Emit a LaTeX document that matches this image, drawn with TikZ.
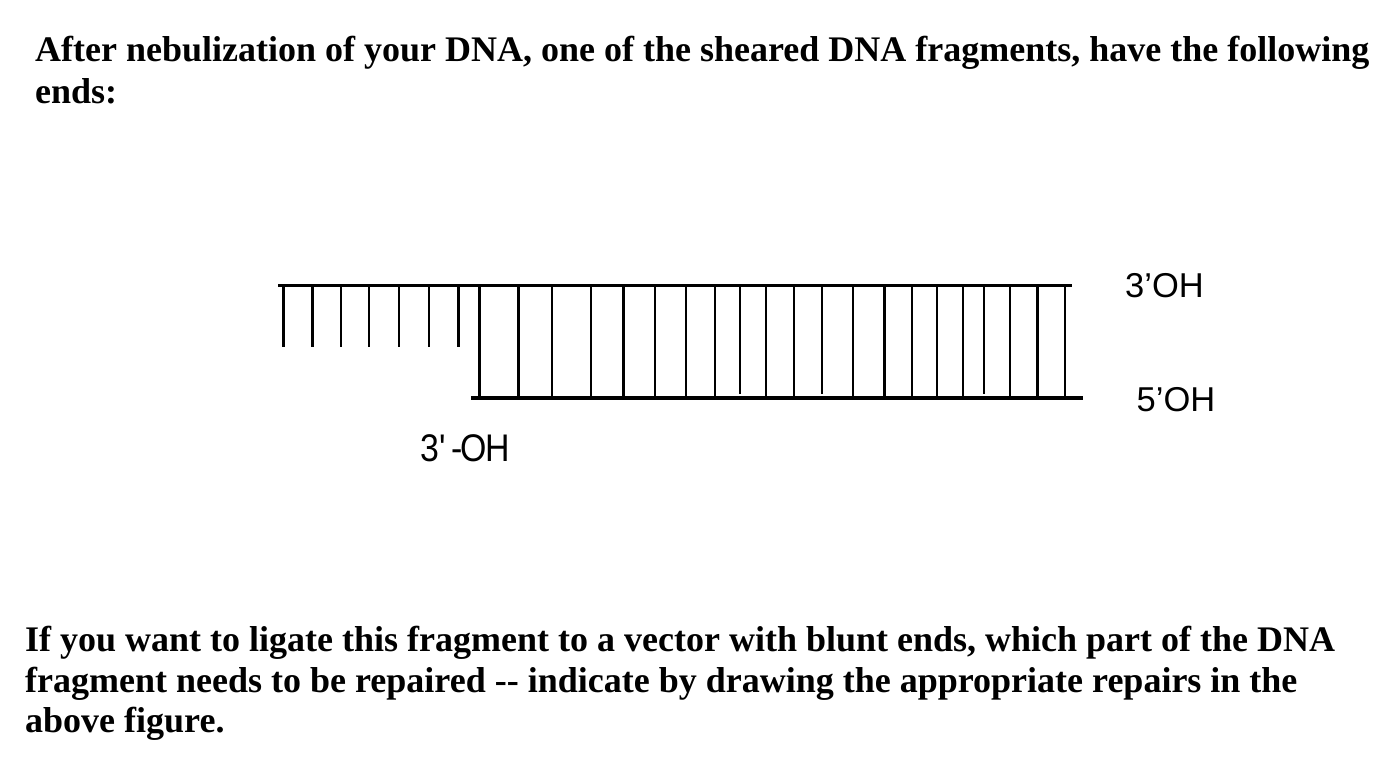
\documentclass[tikz,border=0pt]{standalone}
\usepackage{fontspec}
\setmainfont{Liberation Serif}
\newfontfamily\arialfont{Liberation Sans}
\begin{document}
\begin{tikzpicture}[x=1pt,y=-1pt,
  strand/.style={line width=3.4pt, black},
  rung/.style={line width=2.4pt, black},
  para/.style={anchor=base west, inner sep=0pt, font=\fontsize{36}{42}\selectfont\bfseries},
  endlabel/.style={anchor=base west, inner sep=0pt, font=\arialfont\fontsize{34.5}{38}\selectfont}]
\useasboundingbox (0,0) rectangle (1392,760);
% text
\node[para] (t1) at (35,62) {After nebulization of your DNA, one of the sheared DNA fragments, have the following};
\node[para] (t2) at (35,103) {ends:};
\node[para] (b1) at (25,651) {If you want to ligate this fragment to a vector with blunt ends, which part of the DNA};
\node[para] (b2) at (25,692) {fragment needs to be repaired \mbox{-}\mbox{-} indicate by drawing the appropriate repairs in the};
\node[para] (b3) at (25,732) {above figure.};
% strands
\coordinate (topL) at (278,285.5);
\coordinate (topR) at (1072,285.5);
\coordinate (botL) at (471,398);
\coordinate (botR) at (1083,398);
\draw[strand] (topL) -- (topR);
\draw[strand] (botL) -- (botR);
% single-strand overhang ticks
\foreach \x in {283.3,312.3,341,368.7,399,429,458.3}
  \draw[rung] (\x,285.5) -- (\x,347);
% base-pair rungs
\foreach \x in {479.3,518.3,551.7,590.7,623.3,655,685.7,715,766,794,852.7,884.3,911.7,936.7,962.7,1010,1037.3,1065}
  \draw[rung] (\x,285.5) -- (\x,398);
\foreach \x in {740,821.7,984}
  \draw[rung] (\x,285.5) -- (\x,394);
% end labels
\node[endlabel] (l3top) at (1125,297.5) {3’OH};
\node[endlabel] (l5bot) at (1136.5,411.5) {5’OH};
\node[anchor=base west, inner sep=0pt, font=\arialfont\fontsize{38.5}{42}\selectfont] (l3left) at (420.5,461.5)
  {\scalebox{0.88}[1]{3\textquotesingle\kern6.5pt-\kern-2.5pt O\kern-2pt H}};
\end{tikzpicture}
\end{document}
